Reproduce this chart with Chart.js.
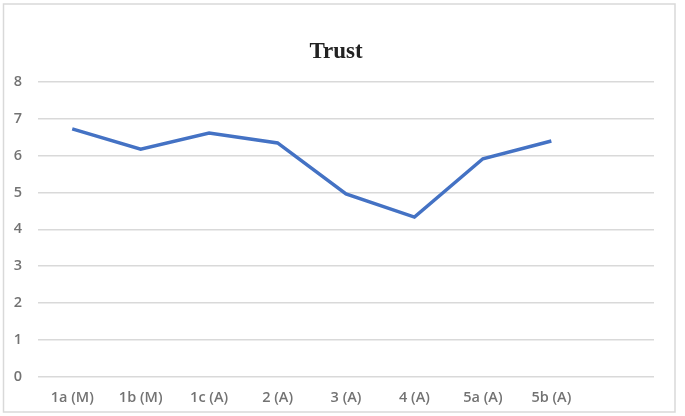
<!DOCTYPE html>
<html>
<head>
<meta charset="utf-8">
<script src="https://cdn.jsdelivr.net/npm/chart.js@4/dist/chart.umd.min.js"></script>
<style>
  html, body { margin: 0; padding: 0; background: #fff; }
  #wrap { width: 685px; height: 416px; }
</style>
</head>
<body>
<div id="wrap"><canvas id="chart" width="685" height="416"></canvas></div>
<script>
// categories (last slot is empty in the original)
var categories = ['1a (M)', '1b (M)', '1c (A)', '2 (A)', '3 (A)', '4 (A)', '5a (A)', '5b (A)', ''];
var trustValues = [6.72, 6.17, 6.61, 6.34, 4.96, 4.33, 5.91, 6.39, null];
var yTicks = [0, 1, 2, 3, 4, 5, 6, 7, 8];

var frame = {
    id: 'frame',
    beforeDraw: function (chart) {
        var ctx = chart.ctx;
        ctx.save();
        ctx.fillStyle = '#fff';
        ctx.fillRect(0, 0, chart.width, chart.height);
        ctx.strokeStyle = '#d9d9d9';
        ctx.lineWidth = 1.5;
        ctx.strokeRect(3.5, 4, 671.5, 408);
        ctx.restore();
    }
};

var tickFont = { family: 'Open Sans', size: 14.5, weight: '600' };

var ctx = document.getElementById('chart').getContext('2d');
new Chart(ctx, {
    type: 'line',
    data: {
        labels: categories,
        datasets: [{
            label: 'Trust',
            data: trustValues,
            borderColor: '#4472c4',
            borderWidth: 3.5,
            pointRadius: 0,
            tension: 0,
            fill: false
        }]
    },
    options: {
        responsive: false,
        animation: false,
        layout: { padding: { left: 0, right: 13, top: 0, bottom: 0 } },
        plugins: {
            legend: { display: false },
            tooltip: { enabled: false },
            title: {
                display: true,
                text: 'Trust',
                color: '#222',
                font: { family: 'Liberation Serif', size: 23, weight: 'bold' },
                padding: { top: 38, bottom: 16 }
            }
        },
        scales: {
            x: {
                offset: true,
                grid: { display: false, drawTicks: false },
                border: { display: false },
                ticks: {
                    color: '#737373',
                    font: tickFont,
                    padding: 12,
                    maxRotation: 0,
                    autoSkip: false
                },
                afterFit: function (scale) { scale.height = 39; }
            },
            y: {
                min: 0,
                max: 8,
                grid: { color: '#d9d9d9', lineWidth: 1.5, drawTicks: false },
                border: { display: false },
                afterBuildTicks: function (scale) {
                    scale.ticks = yTicks.map(function (v) { return { value: v }; });
                },
                ticks: {
                    color: '#737373',
                    font: tickFont,
                    padding: 16
                },
                afterFit: function (scale) { scale.width = 38; }
            },
            // empty spacer on the right so the title stays centred like the original
            yRight: {
                position: 'right',
                min: 0,
                max: 8,
                grid: { display: false, drawTicks: false },
                border: { display: false },
                ticks: { display: false },
                afterFit: function (scale) { scale.width = 18; }
            }
        }
    },
    plugins: [frame]
});
</script>
</body>
</html>
